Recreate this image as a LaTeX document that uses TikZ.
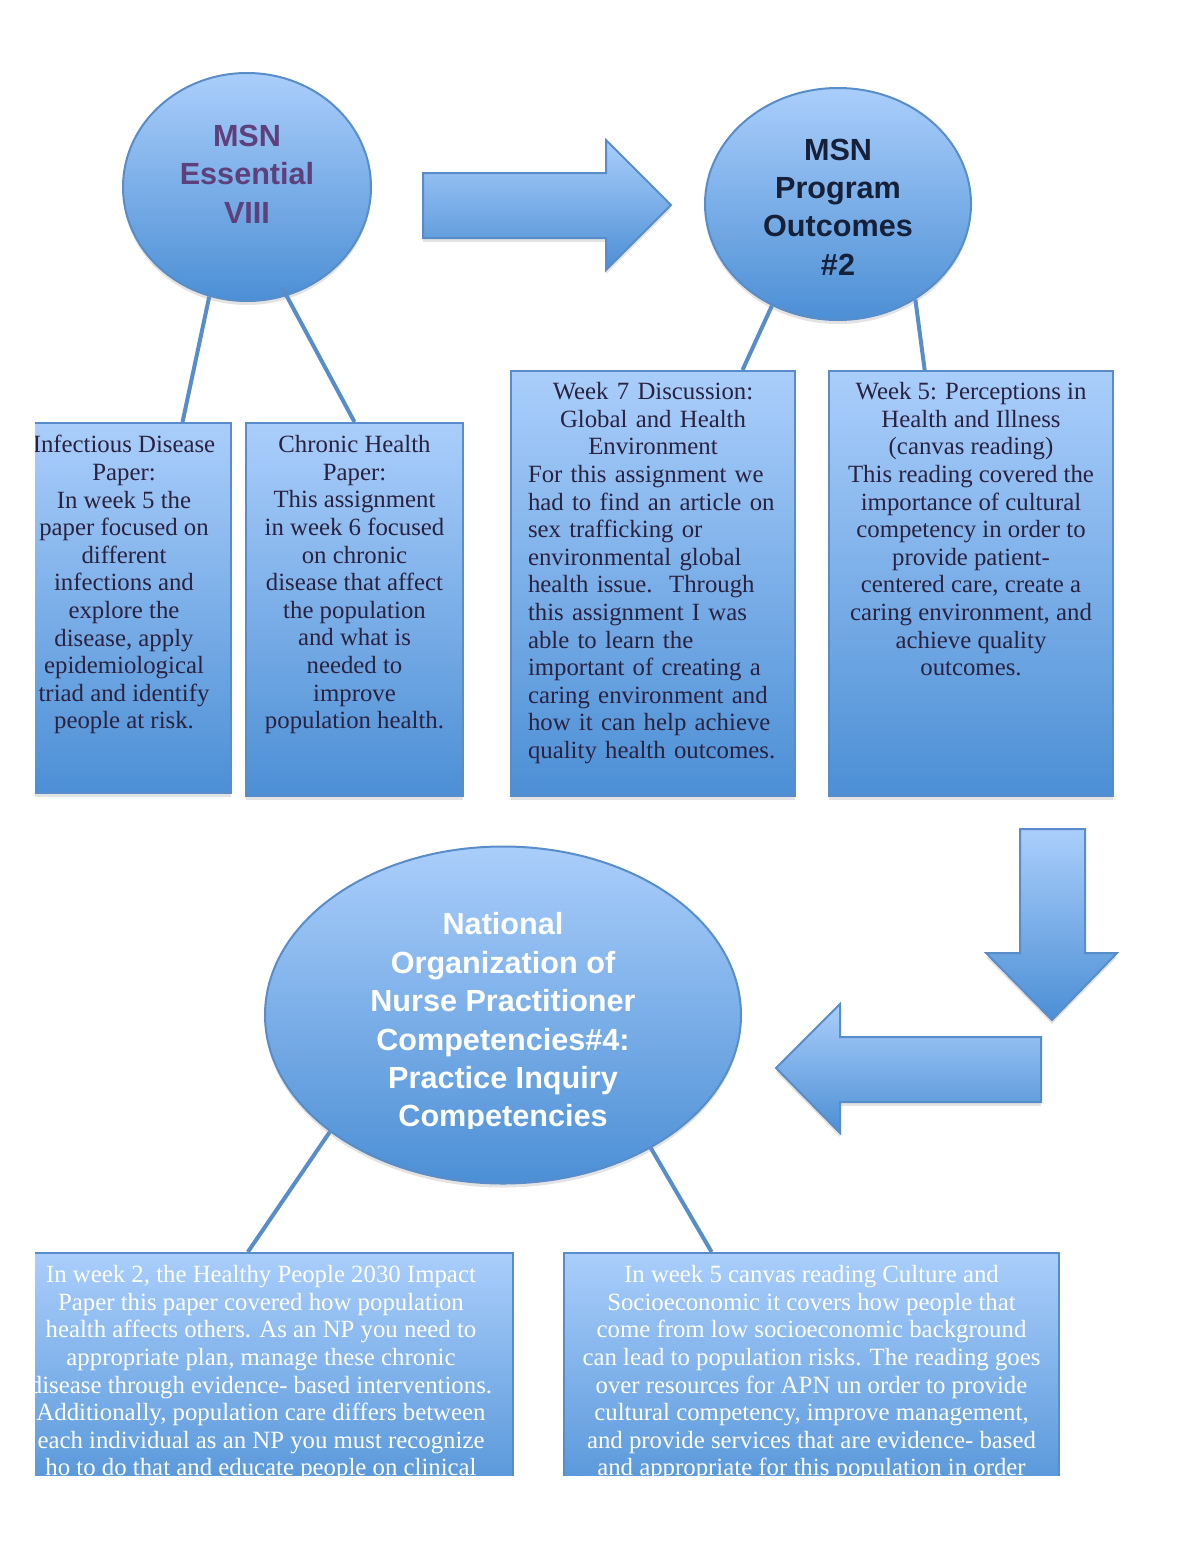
\documentclass[tikz,border=0pt]{standalone}
\usepackage{fontspec}
\setmainfont{Liberation Serif}
\newfontfamily\headsans{Liberation Sans}
\usetikzlibrary{shapes.geometric,shadows,calc}
\definecolor{lightblue}{RGB}{170,206,251}
\definecolor{darkblue}{RGB}{76,143,213}
\definecolor{edgeblue}{RGB}{88,141,201}
\definecolor{purpletext}{RGB}{94,64,124}
\definecolor{navytext}{RGB}{22,32,56}
\definecolor{boxtext}{RGB}{42,34,64}
\begin{document}
\begin{tikzpicture}[x=0.5pt,y=-0.5pt,
  bluefill/.style={top color=lightblue,bottom color=darkblue,draw=edgeblue,line width=1pt},
  softshadow/.style={drop shadow={opacity=0.22,shadow xshift=0pt,shadow yshift=-2pt}},
  oval/.style={bluefill,softshadow,ellipse,inner sep=0pt},
  card/.style={bluefill,softshadow,rectangle,inner sep=0pt},
  cardtext/.style={inner sep=0pt,anchor=north,align=center,font=\fontsize{12.4pt}{13.8pt}\selectfont,text=boxtext},
  ovaltext/.style={inner sep=0pt,align=center,font=\headsans\bfseries\fontsize{15.3pt}{19.2pt}\selectfont},
  link/.style={draw=edgeblue,line width=2pt},
  bigarrow/.style={bluefill,softshadow}
]
\useasboundingbox (0,0) rectangle (1200,1553);
\begin{scope}
\clip (35,0) rectangle (1200,1475);

% big arrows
\path[bigarrow] (423,173) -- (606,173) -- (606,140) -- (671,205) -- (606,270) -- (606,238) -- (423,238) -- cycle;
\path[bigarrow] (1020,829) -- (1085,829) -- (1085,953) -- (1117,953) -- (1052,1020) -- (986,953) -- (1020,953) -- cycle;
\path[bigarrow] (1041,1037) -- (840,1037) -- (840,1004) -- (776,1068) -- (840,1133) -- (840,1102) -- (1041,1102) -- cycle;

% ellipses
\node[oval,minimum width=124pt,minimum height=114pt] (e1) at (247,187) {};
\node[oval,minimum width=133pt,minimum height=116pt] (e2) at (838,204) {};
\node[oval,minimum width=238pt,minimum height=168.5pt] (e3) at (503,1015) {};

\node[ovaltext,text=purpletext] (t1) at (247,174) {MSN\\Essential\\VIII};
\node[ovaltext,text=navytext] (t2) at (838,207) {MSN\\Program\\Outcomes\\\#2};
\begin{scope}
\clip (250,850) rectangle (760,1128);
\node[ovaltext,text=white] (t3) at (503,1023) {National\\Organization of\\Nurse Practitioner\\Competencies\#4:\\Practice Inquiry\\Competencies};
\end{scope}

% boxes
\node[card,minimum width=107pt,minimum height=185pt] (b1) at (124,608) {};
\node[card,minimum width=108.5pt,minimum height=186.5pt] (b2) at (354.5,609.5) {};
\node[card,minimum width=142pt,minimum height=212.5pt] (b3) at (653,583.5) {};
\node[card,minimum width=142pt,minimum height=212.5pt] (b4) at (971,583.5) {};
\node[card,minimum width=252pt,minimum height=133.5pt] (b5) at (261,1386.5) {};
\node[card,minimum width=247.5pt,minimum height=133.5pt] (b6) at (811.5,1386.5) {};

% connectors
\draw[link] (e1.251.6) -- ($(b1.north west)!0.771!(b1.north east)$);
\draw[link,shorten <=-5pt] (e1.290) -- (b2.north);
\draw[link] (e2.237.2) -- ($(b3.north west)!0.813!(b3.north east)$);
\draw[link] (e2.309) -- ($(b4.north west)!0.338!(b4.north east)$);
\draw[link] (e3.214.3) -- ($(b5.north west)!0.474!(b5.north east)$);
\draw[link] (e3.318.4) -- ($(b6.north west)!0.299!(b6.north east)$);

% box texts
\node[cardtext] (x1) at (124,435) {Infectious Disease\\Paper:\\In week 5 the\\paper focused on\\different\\infections and\\explore the\\disease, apply\\epidemiological\\triad and identify\\people at risk.};
\node[cardtext] (x2) at (354.5,435) {Chronic Health\\Paper:\\This assignment\\in week 6 focused\\on chronic\\disease that affect\\the population\\and what is\\needed to\\improve\\population health.};
\node[cardtext,align=left,text width=125pt] (x3) at (653,382) {\makebox[125pt][c]{Week 7 Discussion:}\\\makebox[125pt][c]{Global and Health}\\\makebox[125pt][c]{Environment}\\For this assignment we\\had to find an article on\\sex trafficking or\\environmental global\\health issue.\ \ Through\\this assignment I was\\able to learn the\\important of creating a\\caring environment and\\how it can help achieve\\quality health outcomes.};
\node[cardtext] (x4) at (971,382) {Week 5: Perceptions in\\Health and Illness\\(canvas reading)\\This reading covered the\\importance of cultural\\competency in order to\\provide patient-\\centered care, create a\\caring environment, and\\achieve quality\\outcomes.};
\node[cardtext,text=white] (x5) at (261,1265) {In week 2, the Healthy People 2030 Impact\\Paper this paper covered how population\\health affects others. As an NP you need to\\appropriate plan, manage these chronic\\disease through evidence- based interventions.\\Additionally, population care differs between\\each individual as an NP you must recognize\\ho to do that and educate people on clinical};
\node[cardtext,text=white] (x6) at (811.5,1265) {In week 5 canvas reading Culture and\\Socioeconomic it covers how people that\\come from low socioeconomic background\\can lead to population risks. The reading goes\\over resources for APN un order to provide\\cultural competency, improve management,\\and provide services that are evidence- based\\and appropriate for this population in order};
\end{scope}
\end{tikzpicture}
\end{document}
